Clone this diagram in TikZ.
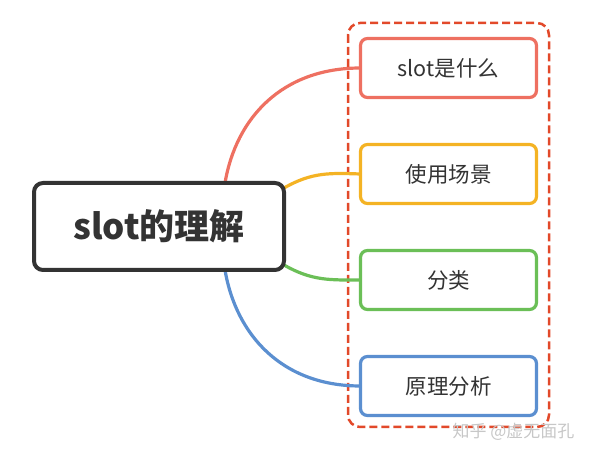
\documentclass[tikz,border=0pt]{standalone}
\usepackage{fontspec}
\setmainfont{Noto Sans CJK SC}
\usetikzlibrary{positioning, backgrounds}
\definecolor{mainline}{HTML}{333333}
\definecolor{redline}{HTML}{EE7061}
\definecolor{yellowline}{HTML}{F4B324}
\definecolor{greenline}{HTML}{6BBF57}
\definecolor{blueline}{HTML}{5B8FD0}
\definecolor{frameline}{HTML}{E2492A}
\tikzstyle{topic} = [rectangle, rounded corners=7pt, line width=3.2pt, fill=white, minimum width=176pt, minimum height=59pt, inner sep=0pt, outer sep=0pt, font=\fontsize{21.5}{25}\selectfont, text=mainline]
\tikzstyle{branch} = [line width=3.2pt]

\begin{document}
\begin{tikzpicture}[x=1pt, y=-1pt,
		root/.style={
			rectangle,
			draw=mainline,
			line width=4pt,
			rounded corners=9pt,
			fill=white,
			font=\fontsize{35}{40}\selectfont\bfseries,
			text=mainline,
			minimum width=250pt,
			minimum height=87pt,
			inner sep=0pt,
			outer sep=0pt}]

		\useasboundingbox (0,0) rectangle (590,454);

		\node (mainbox) [root] at (159,226.5) {slot的理解};

		\node (whatis) [topic, draw=redline] at (448.5,68) {slot是什么};
		\node (usage) [topic, draw=yellowline, below=47pt of whatis] {使用场景};
		\node (kinds) [topic, draw=greenline, below=47pt of usage] {分类};
		\node (principle) [topic, draw=blueline, below=47pt of kinds] {原理分析};

		\coordinate (redstart) at ([xshift=-59pt]mainbox.north east);
		\coordinate (bluestart) at ([xshift=-59pt]mainbox.south east);
		\coordinate (yellowstart) at ([yshift=-5pt]mainbox.north east);
		\coordinate (greenstart) at ([yshift=5pt]mainbox.south east);

		\begin{scope}[on background layer]
		% dashed frame round the sub-topics
		\draw[frameline, line width=2.5pt, dash pattern=on 8pt off 4pt, rounded corners=12pt] (348,23) rectangle (549,427);
		\draw[branch, redline] (redstart) .. controls (236,118) and (282,68) .. (whatis.west);
		\draw[branch, yellowline] (yellowstart) .. controls (312,172) and (330,173) .. (usage.west);
		\draw[branch, greenline] (greenstart) .. controls (312,281) and (330,280) .. (kinds.west);
		\draw[branch, blueline] (bluestart) .. controls (236,335) and (282,386) .. (principle.west);
		\end{scope}

		\node (mark) [text=black!22, font=\fontsize{17}{20}\selectfont, anchor=east] at (578,432) {知乎 @虚无面孔};
	\end{tikzpicture}
\end{document}
